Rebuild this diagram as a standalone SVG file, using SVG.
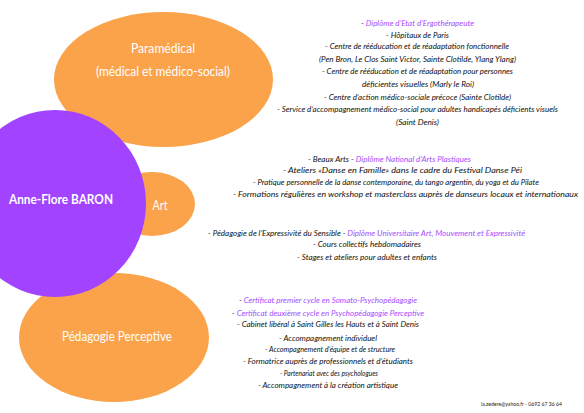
<svg xmlns="http://www.w3.org/2000/svg" width="584" height="413" viewBox="0 0 584 413">
<style>
.orange{fill:#FBA34A}
.purple{fill:#A143FF}
.lbl{font-family:Lato,"Liberation Sans",sans-serif;font-size:13px;fill:#fff;text-anchor:middle}
.b{font-weight:bold}
.t{font-family:Lato,"Liberation Sans",sans-serif;font-style:italic;font-size:7.5px;fill:#111;text-anchor:middle}
.p{fill:#A64DFF}
.foot{font-family:Lato,"Liberation Sans",sans-serif;font-size:5px;fill:#222}
</style>
<rect width="584" height="413" fill="#fff"/>
<g id="paramedical">
<ellipse class="orange" cx="163.5" cy="79.5" rx="109.5" ry="67.5"/>
<text class="lbl" x="163" y="52.5" textLength="64" lengthAdjust="spacingAndGlyphs">Paramédical</text>
<text class="lbl" x="163" y="75.5" textLength="134" lengthAdjust="spacingAndGlyphs">(médical et médico-social)</text>
</g>
<g id="art">
<ellipse class="orange" cx="152" cy="204" rx="43" ry="32"/>
<text class="lbl" x="160" y="210" textLength="15" lengthAdjust="spacingAndGlyphs">Art</text>
</g>
<g id="pedagogie">
<ellipse class="orange" cx="114" cy="337.5" rx="95" ry="64.5"/>
<text class="lbl" x="117" y="341" textLength="110" lengthAdjust="spacingAndGlyphs">Pédagogie Perceptive</text>
</g>
<g id="anne-flore">
<ellipse class="purple" cx="55" cy="203.5" rx="91" ry="93.5"/>
<text class="lbl b" x="61" y="203.5" textLength="104" lengthAdjust="spacingAndGlyphs">Anne-Flore BARON</text>
</g>
<g id="connectors"/>
<g id="paramedical-details">
<text class="t" x="417.5" y="25.5" textLength="113" lengthAdjust="spacingAndGlyphs">- <tspan class="p">Diplôme d’Etat d’Ergothérapeute</tspan></text>
<text class="t" x="417.5" y="37.5" textLength="63" lengthAdjust="spacingAndGlyphs">- Hôpitaux de Paris</text>
<text class="t" x="417" y="49.2" textLength="184" lengthAdjust="spacingAndGlyphs">- Centre de rééducation et de réadaptation fonctionnelle</text>
<text class="t" x="417.5" y="61.7" textLength="197" lengthAdjust="spacingAndGlyphs">(Pen Bron, Le Clos Saint Victor, Sainte Clotilde, Ylang Ylang)</text>
<text class="t" x="417.5" y="74.3" textLength="191" lengthAdjust="spacingAndGlyphs">- Centre de rééducation et de réadaptation pour personnes</text>
<text class="t" x="418" y="87.2" textLength="112" lengthAdjust="spacingAndGlyphs">déficientes visuelles (Marly le Roi)</text>
<text class="t" x="417.5" y="99.9" textLength="187" lengthAdjust="spacingAndGlyphs">- Centre d’action médico-sociale précoce (Sainte Clotilde)</text>
<text class="t" x="417.5" y="112.3" textLength="281" lengthAdjust="spacingAndGlyphs">- Service d’accompagnement médico-social pour adultes handicapés déficients visuels</text>
<text class="t" x="417.5" y="124.9" textLength="43" lengthAdjust="spacingAndGlyphs">(Saint Denis)</text>
</g>
<g id="art-details">
<text class="t" x="389.5" y="161.5" textLength="163" lengthAdjust="spacingAndGlyphs">- Beaux Arts - <tspan class="p">Diplôme National d’Arts Plastiques</tspan></text>
<text class="t" x="402.5" y="173.3" textLength="239" lengthAdjust="spacingAndGlyphs">- Ateliers «Danse en Famille» dans le cadre du Festival Danse Péi</text>
<text class="t" x="396" y="185" textLength="286" lengthAdjust="spacingAndGlyphs">- Pratique personnelle de la danse contemporaine, du tango argentin, du yoga et du Pilate</text>
<text class="t" x="405.5" y="197.2" textLength="345" lengthAdjust="spacingAndGlyphs">- Formations régulières en workshop et masterclass auprès de danseurs locaux et internationaux</text>
<text class="t" x="366.5" y="235.5" textLength="317" lengthAdjust="spacingAndGlyphs">- Pédagogie de l’Expressivité du Sensible - <tspan class="p">Diplôme Universitaire Art, Mouvement et Expressivité</tspan></text>
<text class="t" x="367" y="247.3" textLength="108" lengthAdjust="spacingAndGlyphs">- Cours collectifs hebdomadaires</text>
<text class="t" x="367" y="260" textLength="140" lengthAdjust="spacingAndGlyphs">- Stages et ateliers pour adultes et enfants</text>
</g>
<g id="pedagogie-details">
<text class="t" x="328" y="303" textLength="178" lengthAdjust="spacingAndGlyphs">- <tspan class="p">Certificat premier cycle en Somato-Psychopédagogie</tspan></text>
<text class="t" x="328" y="315.5" textLength="192" lengthAdjust="spacingAndGlyphs">- <tspan class="p">Certificat deuxième cycle en Psychopédagogie Perceptive</tspan></text>
<text class="t" x="328" y="327.3" textLength="182" lengthAdjust="spacingAndGlyphs">- Cabinet libéral à Saint Gilles les Hauts et à Saint Denis</text>
<text class="t" x="328" y="340.5" textLength="98" lengthAdjust="spacingAndGlyphs">- Accompagnement individuel</text>
<text class="t" x="330" y="352.2" textLength="130" lengthAdjust="spacingAndGlyphs">- Accompagnement d’équipe et de structure</text>
<text class="t" x="328" y="364" textLength="170" lengthAdjust="spacingAndGlyphs">- Formatrice auprès de professionnels et d’étudiants</text>
<text class="t" x="329" y="375.6" textLength="98" lengthAdjust="spacingAndGlyphs">- Partenariat avec des psychologues</text>
<text class="t" x="328" y="388" textLength="140" lengthAdjust="spacingAndGlyphs">- Accompagnement à la création artistique</text>
</g>
<g id="footer">
<text class="foot" x="481" y="405.5" textLength="81" lengthAdjust="spacingAndGlyphs">la.zedere@yahoo.fr - 0692 67 36 64</text>
</g>
</svg>
